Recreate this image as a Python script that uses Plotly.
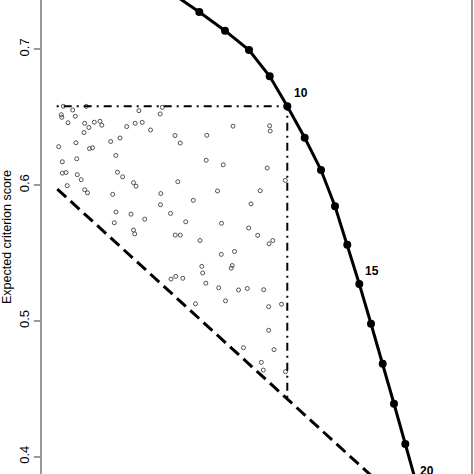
"""Expected criterion score: efficient frontier vs. candidate designs."""

import plotly.graph_objects as go

# Frontier designs (numbered), x in plot units, y = expected criterion score
curve_n = [5, 6, 7, 8, 9, 10, 11, 12, 13, 14, 15, 16, 17, 18, 19, 20]
curve_x = [13.15, 15.78, 18.35, 20.75, 22.82, 24.58, 26.32, 27.95,
           29.35, 30.58, 31.78, 32.95, 34.12, 35.25, 36.38, 37.5]
curve_y = [0.7407, 0.7275, 0.7137, 0.6995, 0.6801, 0.658, 0.6349, 0.6111,
           0.5844, 0.5561, 0.5272, 0.4979, 0.4685, 0.439, 0.4094, 0.380]

# Number labels beside frontier designs 10, 15 and 20
label_text = ["10", "15", "20"]
label_x = [25.95, 33.08, 38.5]
label_y = [0.6678, 0.537, 0.3895]

# Candidate (random) designs
cand_x = [2.18, 4.48, 12.08, 3.12, 1.98, 2.03, 3.38, 9.74, 11.87, 2.65,
          4.32, 5.28, 5.85, 6.03, 4.74, 8.52, 9.37, 10.07, 4.25, 10.9,
          7.85, 6.92, 3.44, 1.72, 4.8, 5.1, 7.43, 3.52, 2.08, 2.08,
          2.45, 3.58, 3.97, 7.6, 8.12, 9.2, 9.45, 2.57, 4.32, 4.6,
          7.12, 11.93, 11.9, 13.35, 13.87, 16.53, 19.15, 22.82, 22.87, 16.47,
          18.17, 22.57, 13.63, 17.6, 21.87, 15.18, 20.95, 24.38, 12.9, 14.42,
          18.0, 20.72, 13.37, 13.88, 15.85, 21.62, 22.75, 23.13, 17.98, 19.3,
          16.03, 16.12, 19.07, 18.97, 12.95, 13.43, 14.13, 16.43, 17.72, 19.7,
          20.58, 22.22, 15.4, 18.4, 24.0, 7.45, 8.95, 10.32, 7.28, 9.2,
          9.32, 22.72, 22.72, 20.2, 23.25, 21.98, 22.18, 24.4]
cand_y = [0.658, 0.658, 0.6573, 0.6553, 0.6518, 0.6499, 0.6507, 0.6548, 0.6524, 0.6459,
          0.6455, 0.6463, 0.647, 0.6441, 0.6424, 0.6431, 0.6455, 0.6462, 0.6387, 0.6406,
          0.6347, 0.6321, 0.6312, 0.6283, 0.6269, 0.6275, 0.6218, 0.6194, 0.6172, 0.6088,
          0.6093, 0.6077, 0.604, 0.6095, 0.6061, 0.6018, 0.5992, 0.5996, 0.5966, 0.5943,
          0.5932, 0.5938, 0.5856, 0.6365, 0.631, 0.6367, 0.6434, 0.6437, 0.6398, 0.6183,
          0.615, 0.6126, 0.6025, 0.5957, 0.5959, 0.5888, 0.5862, 0.6035, 0.5792, 0.573,
          0.5719, 0.5684, 0.5632, 0.5632, 0.5592, 0.563, 0.5568, 0.5592, 0.549, 0.5511,
          0.5402, 0.5353, 0.5408, 0.5389, 0.5308, 0.5328, 0.5314, 0.5278, 0.5244, 0.5228,
          0.5239, 0.523, 0.5126, 0.5148, 0.5123, 0.5802, 0.5786, 0.5749, 0.5723, 0.5669,
          0.5641, 0.5105, 0.4931, 0.4803, 0.4789, 0.4695, 0.4638, 0.4626]

# Bounding lines
upper_x = [1.52, 24.58, 24.58]
upper_y = [0.658, 0.658, 0.4425]
lower_x = [1.58, 34.0]
lower_y = [0.5971, 0.3792]

y_ticks = [0.4, 0.5, 0.6, 0.7]

fig = go.Figure()

fig.add_trace(go.Scatter(x=cand_x, y=cand_y, mode="markers",
                         marker=dict(symbol="circle-open", size=4, color="#505050", line=dict(width=1))))

fig.add_trace(go.Scatter(x=upper_x, y=upper_y, mode="lines",
                         line=dict(color="black", width=2, dash="2px,5px,8px,5px")))

fig.add_trace(go.Scatter(x=lower_x, y=lower_y, mode="lines",
                         line=dict(color="black", width=3, dash="12px,6px")))

fig.add_trace(go.Scatter(x=curve_x, y=curve_y, mode="lines+markers",
                         line=dict(color="black", width=3),
                         marker=dict(symbol="circle", size=8, color="black")))

for t, x, y in zip(label_text, label_x, label_y):
    fig.add_annotation(x=x, y=y, text=f"<b>{t}</b>", showarrow=False,
                       font=dict(size=12, color="black"))

fig.update_layout(
    width=474, height=474,
    margin=dict(l=42, r=3, t=0, b=0),
    plot_bgcolor="white", paper_bgcolor="white",
    showlegend=False,
    font=dict(family="Liberation Sans, Arial, sans-serif", color="black"),
)
fig.update_xaxes(range=[0.05, 42.95], visible=False)
fig.update_yaxes(
    range=[0.3873, 0.7363], tickvals=y_ticks, ticktext=[str(v) for v in y_ticks],
    ticks="outside", ticklen=6, tickwidth=1.5, tickcolor="#999999", tickangle=-90,
    tickfont=dict(size=13),
    showline=True, linecolor="#999999", linewidth=1.5, mirror=True,
    showgrid=False, zeroline=False,
    title=dict(text="Expected criterion score", font=dict(size=12.5), standoff=6),
)

# drop the default page margin so the figure sits at the window corner
fig.write_html("out.html", config={"displayModeBar": False},
               post_script="document.body.style.margin = '0';")
